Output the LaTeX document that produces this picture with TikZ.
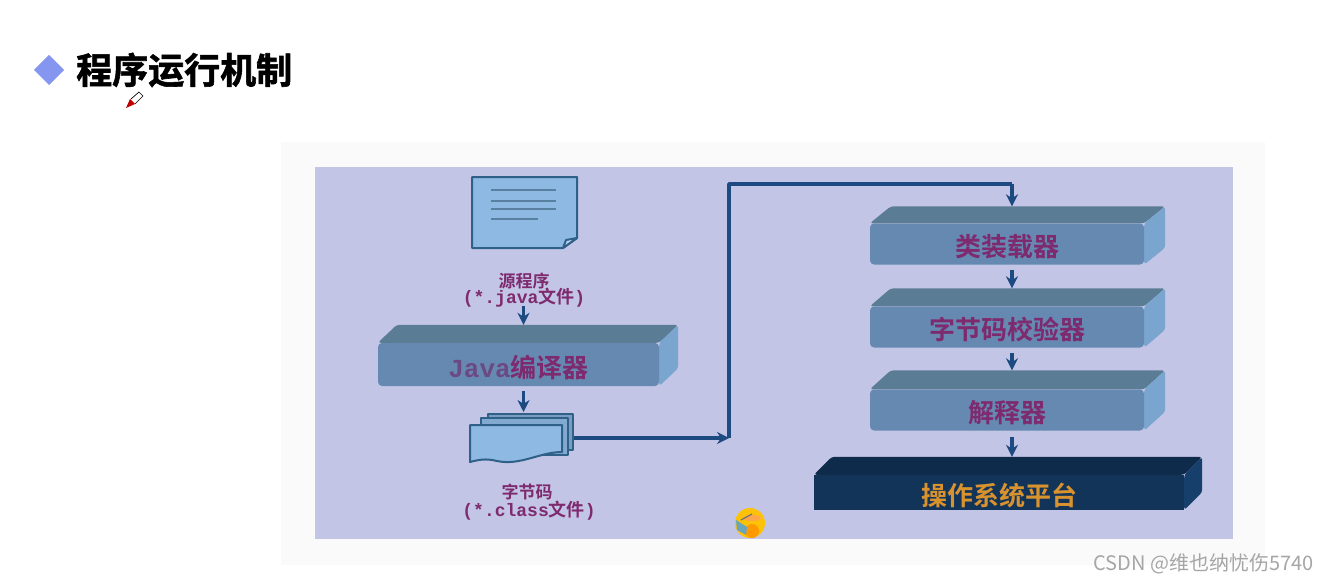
\documentclass[tikz,border=0pt]{standalone}
\usepackage{fontspec}
\usetikzlibrary{arrows.meta,calc}
\newfontfamily\cjkb{Noto Sans CJK SC Bold}
\newfontfamily\cjkh[FakeBold=1.6]{Noto Sans CJK SC Bold}
\newfontfamily\cjkr{Noto Sans CJK SC}
\newfontfamily\monob{Liberation Mono Bold}
\definecolor{panelbg}{HTML}{C3C5E6}
\definecolor{outerbg}{HTML}{FAFAFB}
\definecolor{wire}{HTML}{1D4A80}
\definecolor{blockfront}{HTML}{6689B2}
\definecolor{blocktop}{HTML}{5B7C95}
\definecolor{blockside}{HTML}{7AA5CE}
\definecolor{ink}{HTML}{7E2A6E}
\definecolor{javaink}{HTML}{6B4A84}
\definecolor{osfront}{HTML}{123459}
\definecolor{ostop}{HTML}{0F2B4B}
\definecolor{osside}{HTML}{173F6B}
\definecolor{osink}{HTML}{D8922E}
\definecolor{paper}{HTML}{8DB9E2}
\definecolor{paperedge}{HTML}{2F6088}
\definecolor{diamond}{HTML}{8496F0}
\pgfdeclarelayer{backdrop}
\pgfdeclarelayer{faces}
\pgfsetlayers{backdrop,faces,main}
\tikzset{
  blockbox/.style={rectangle,rounded corners=4pt,fill=blockfront,inner sep=0pt,text=ink,
    font=\cjkb\fontsize{26}{26}\selectfont,minimum height=41pt,minimum width=274pt},
  osbox/.style={rectangle,fill=osfront,inner sep=0pt,text=osink,
    font=\cjkb\fontsize{26}{26}\selectfont,minimum width=370pt,minimum height=35pt},
  caption/.style={inner sep=0pt,text=ink,font=\cjkb\fontsize{17}{17}\selectfont},
  captionmono/.style={inner sep=0pt,text=ink,font=\monob\fontsize{18}{18}\selectfont},
  arr/.style={draw=wire,line width=3.2pt,-{Stealth[length=12pt,width=12pt]}},
  wireline/.style={draw=wire,line width=3.6pt,line join=round},
  sheet/.style={draw=paperedge,line width=2pt,fill=paper,line join=round},
  textline/.style={draw=paperedge!80,line width=1.5pt},
}
\newcommand{\blockfaces}[5]{%
  \begin{pgfonlayer}{faces}
  \fill[#4,rounded corners=3pt] (#1.north west) -- ++(#2,-#3) -- ($(#1.north east)+(#2,-#3)$) -- (#1.north east) -- cycle;
  \fill[#5,rounded corners=3pt] (#1.north east) -- ++(#2,-#3) -- ($(#1.south east)+(#2,-#3)$) -- (#1.south east) -- cycle;
  \end{pgfonlayer}
}
\newcommand{\lowered}[1]{\raisebox{-12.5pt}[0pt][0pt]{#1}}
\begin{document}
\begin{tikzpicture}[x=1pt,y=-1pt]
\useasboundingbox (0,0) rectangle (1329,583);
\begin{pgfonlayer}{backdrop}
\fill[white] (0,0) rectangle (1329,583);
\fill[outerbg] (281,142) rectangle (1265,565);
\fill[panelbg] (315,167) rectangle (1233,539);
\end{pgfonlayer}

% title
\fill[diamond] (49,55) -- (64,70) -- (49,85) -- (34,70) -- cycle;
\node[inner sep=0pt,anchor=west,font=\cjkh\fontsize{36}{36}\selectfont] (title) at (76,70) {程序运行机制};

% pen cursor
\draw[black,line width=0.7pt] (131,99) -- (139,92) -- (143,96) -- (135,104);
\fill[red!75!black] (126,108) -- (130,99) -- (135,104) -- cycle;

% source document
\draw[sheet] (472,177) -- (577,177) -- (577,238) -- (563,248) -- (472,248) -- cycle;
\draw[sheet,fill=paper!60!white] (577,238) -- (566,240) -- (563,248) -- cycle;
\draw[textline] (491,190) -- (556,190);
\draw[textline] (491,201) -- (556,201);
\draw[textline] (491,209) -- (556,209);
\draw[textline] (491,219) -- (538,219);
\node[caption] (srcname) at (524,281) {源程序};
\node[captionmono] (srcext) at (524,298) {(*.java{\cjkb 文件})};

% java compiler
\node[blockbox,minimum width=281pt,minimum height=43pt,text=javaink] (javac) at (518.5,364.5)
  {\lowered{{\monob\fontsize{26}{26}\selectfont Java}{\color{ink}编译器}}};
\blockfaces{javac}{19}{18}{blocktop}{blockside}

% class file stack
\draw[sheet,fill=paper!85!black] (488,414) -- (573,414) -- (573,450) -- (488,450) -- cycle;
\draw[sheet,fill=paper!92!black] (481,418) -- (568,418) -- (568,455) -- (481,455) -- cycle;
\coordinate (clstop) at (523.5,412);
\draw[sheet] (470,425) -- (562,425) -- (562,452) .. controls (540,452) and (520,466) .. (497,461) .. controls (485,458) and (478,460) .. (470,462) -- cycle;
\coordinate (clsout) at (574,438);
\node[caption] (clsname) at (527,492) {字节码};
\node[captionmono] (clsext) at (529,511) {(*.class{\cjkb 文件})};

% right column
\node[blockbox] (loader) at (1007,244) {\lowered{类装载器}};
\blockfaces{loader}{21}{17}{blocktop}{blockside}
\node[blockbox] (verifier) at (1007,327) {\lowered{字节码校验器}};
\blockfaces{verifier}{21}{18}{blocktop}{blockside}
\node[blockbox] (interp) at (1007,410) {\lowered{解释器}};
\blockfaces{interp}{21}{19}{blocktop}{blockside}
\node[osbox] (os) at (999,492.5) {\lowered{操作系统平台}};
\blockfaces{os}{18}{18}{ostop}{osside}

% connectors
\coordinate (joint) at (729,438);
\coordinate (corner) at (729,184);
\coordinate (drop) at (1012,184);
\draw[arr] (523.5,306) -- ([xshift=5pt,yshift=18pt]javac.north);
\draw[arr] ([xshift=5pt,yshift=-5pt]javac.south) -- (clstop);
\draw[arr] (clsout) -- (joint);
\draw[wireline] (joint) -- (corner) -- (drop);
\draw[arr] (drop) -- ([xshift=5pt,yshift=17pt]loader.north);
\draw[arr] ([xshift=5pt,yshift=-5pt]loader.south) -- ([xshift=5pt,yshift=18pt]verifier.north);
\draw[arr] ([xshift=5pt,yshift=-5pt]verifier.south) -- ([xshift=5pt,yshift=19pt]interp.north);
\draw[arr] ([xshift=5pt,yshift=-6pt]interp.south) -- ([xshift=13pt,yshift=18pt]os.north);

% emoji
\fill[yellow!55!orange] (750,523) circle (15);
\fill[orange!80!yellow] (752,531) circle (7);
\fill[white!30!orange] (752,518) ellipse (9 and 3);
\fill[cyan!45!gray] (736,520) -- (747,527) -- (746,535) -- (737,530) -- cycle;
\draw[black!55,line width=1.2pt] (741,520) -- (752,514);

% watermark
\node[inner sep=0pt,anchor=east,text=black!35,font=\cjkr\fontsize{20}{20}\selectfont] (mark) at (1314,564) {CSDN @维也纳忧伤5740};
\end{tikzpicture}
\end{document}
